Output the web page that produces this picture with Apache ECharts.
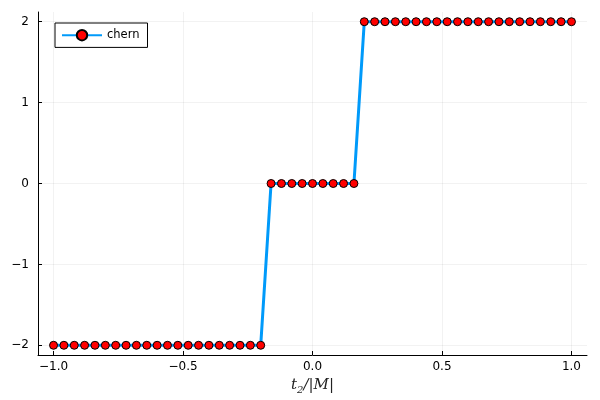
<!DOCTYPE html>
<html>
<head>
<meta charset="utf-8">
<script src="https://cdn.jsdelivr.net/npm/echarts@6/dist/echarts.min.js"></script>
<style>html,body{margin:0;padding:0;background:#fff}#c{width:600px;height:400px}</style>
</head>
<body>
<div id="c"></div>
<script>
var xValues = [-1.0,-0.96,-0.92,-0.88,-0.84,-0.8,-0.76,-0.72,-0.68,-0.64,-0.6,-0.56,-0.52,-0.48,-0.44,-0.4,-0.36,-0.32,-0.28,-0.24,-0.2,
  -0.16,-0.12,-0.08,-0.04,0.0,0.04,0.08,0.12,0.16,
  0.2,0.24,0.28,0.32,0.36,0.4,0.44,0.48,0.52,0.56,0.6,0.64,0.68,0.72,0.76,0.8,0.84,0.88,0.92,0.96,1.0];
var chernValues = [-2,-2,-2,-2,-2,-2,-2,-2,-2,-2,-2,-2,-2,-2,-2,-2,-2,-2,-2,-2,-2,
  0,0,0,0,0,0,0,0,0,
  2,2,2,2,2,2,2,2,2,2,2,2,2,2,2,2,2,2,2,2,2];
var xTicks = [-1.0,-0.5,0.0,0.5,1.0];
var yTicks = [-2,-1,0,1,2];
var seriesName = 'chern';

var data = xValues.map(function(x,i){return [x, chernValues[i]];});
function minus(s){return String(s).replace('-', '\u2212');}
var chart = echarts.init(document.getElementById('c'), null, {renderer:'canvas'});
var font = 'DejaVu Sans';
chart.setOption({
  animation:false,
  backgroundColor:'#fff',
  grid:{left:38,right:13,top:12,bottom:45,containLabel:false,outerBoundsMode:'none'},
  legend:{
    show:true, left:55, top:23, orient:'vertical',
    borderColor:'#000', borderWidth:1, borderRadius:0,
    padding:[6,8,6,6], itemWidth:40, itemHeight:13, itemGap:4,
    textStyle:{fontFamily:font,fontSize:11.5,color:'#000'},
    data:[{name:seriesName}]
  },
  xAxis:{
    type:'value', min:-1.06, max:1.06,
    name:'{i|t}{s|2}{i|/|M|}', nameLocation:'middle', nameGap:20,
    nameTextStyle:{
      rich:{
        i:{fontFamily:'DejaVu Serif',fontStyle:'italic',fontSize:15,color:'#222',lineHeight:20,verticalAlign:'middle'},
        s:{fontFamily:'DejaVu Serif',fontStyle:'italic',fontSize:10,color:'#222',lineHeight:20,verticalAlign:'bottom',padding:[6,0,0,0]}
      }
    },
    axisLine:{show:true,onZero:false,lineStyle:{color:'#000',width:1}},
    axisTick:{show:true,inside:true,length:4,customValues:xTicks,lineStyle:{color:'#000'}},
    axisLabel:{customValues:xTicks,fontFamily:font,fontSize:12,color:'#000',margin:6,
      formatter:function(v){return minus(v.toFixed(1));}},
    splitLine:{show:true,lineStyle:{color:'#000',opacity:0.1,width:0.5}}
  },
  yAxis:{
    type:'value', min:-2.12, max:2.12,
    axisLine:{show:true,onZero:false,lineStyle:{color:'#000',width:1}},
    axisTick:{show:true,inside:true,length:4,customValues:yTicks,lineStyle:{color:'#000'}},
    axisLabel:{customValues:yTicks,fontFamily:font,fontSize:12,color:'#000',margin:9,
      formatter:function(v){return minus(Math.round(v));}},
    splitLine:{show:true,lineStyle:{color:'#000',opacity:0.1,width:0.5}}
  },
  series:[{
    name:seriesName, type:'line', data:data,
    symbol:'circle', symbolSize:8,
    lineStyle:{color:'#009AFA',width:3},
    itemStyle:{color:'#FF0000',borderColor:'#000',borderWidth:1},
    emphasis:{disabled:true}
  }]
});
</script>
</body>
</html>
